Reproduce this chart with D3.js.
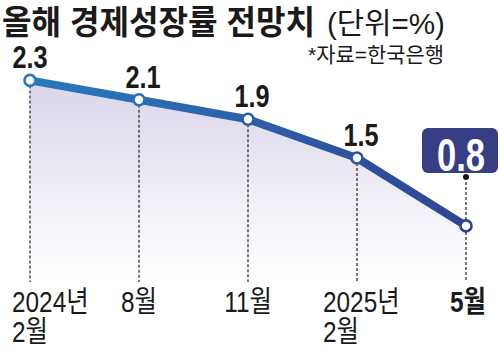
<!DOCTYPE html>
<html><head><meta charset="utf-8">
<script src="https://cdn.jsdelivr.net/npm/d3@7"></script>
<style>body{margin:0;background:#fff}svg{display:block}</style>
</head><body>
<script>
const categories = ["2024년 2월", "8월", "11월", "2025년 2월", "5월"];
const values = [2.3, 2.1, 1.9, 1.5, 0.8];
const valueLabels = ["2.3", "2.1", "1.9", "1.5", "0.8"];
const title = "올해 경제성장률 전망치";
const unitText = "(단위=%)";
const sourceText = "*자료=한국은행";

const W = 500, H = 349;
const svg = d3.select("body").append("svg").attr("width", W).attr("height", H);
const KR = "'Liberation Sans', 'Noto Sans CJK KR', sans-serif";
const NUM = "'Liberation Sans', Arial, sans-serif";

const x = d3.scalePoint().domain(categories).range([30, 466]);
const y = d3.scaleLinear().domain([0, 2.5]).range([303.5, 61]);
const baseY = 282;

function condense(sel, f) {
  sel.each(function() {
    const w = this.getComputedTextLength();
    d3.select(this).attr("textLength", w * f).attr("lengthAdjust", "spacingAndGlyphs");
  });
}

const defs = svg.append("defs");
const ag = defs.append("linearGradient").attr("id", "areaG")
  .attr("gradientUnits", "userSpaceOnUse").attr("x1", 0).attr("x2", 0).attr("y1", 80).attr("y2", 275);
ag.append("stop").attr("offset", 0).attr("stop-color", "#dad5ea");
ag.append("stop").attr("offset", 1).attr("stop-color", "#ffffff");
const lg = defs.append("linearGradient").attr("id", "lineG")
  .attr("gradientUnits", "userSpaceOnUse").attr("x1", 30).attr("x2", 466).attr("y1", 0).attr("y2", 0);
lg.append("stop").attr("offset", 0).attr("stop-color", "#2a79bd");
lg.append("stop").attr("offset", 1).attr("stop-color", "#2e4595");
const colAt = d3.interpolateRgb("#2a79bd", "#2e4595");

const data = categories.map((c, i) => ({c, v: values[i], label: valueLabels[i], i}));

// area
svg.append("path").datum(data)
  .attr("d", d3.area().x(d => x(d.c)).y0(baseY).y1(d => y(d.v)))
  .attr("fill", "url(#areaG)");

// dashed drop lines
const last = data[data.length - 1];
const boxTop = y(last.v) - 98, boxBot = y(last.v) - 53;
svg.selectAll("line.drop").data(data).enter().append("line")
  .attr("x1", d => x(d.c)).attr("x2", d => x(d.c))
  .attr("y1", d => d.i === data.length - 1 ? boxBot + 4 : y(d.v))
  .attr("y2", baseY)
  .attr("stroke", "#222").attr("stroke-width", 1.2).attr("stroke-dasharray", "3,2");

// line
svg.append("path").datum(data)
  .attr("d", d3.line().x(d => x(d.c)).y(d => y(d.v)))
  .attr("fill", "none").attr("stroke", "url(#lineG)").attr("stroke-width", 8)
  .attr("stroke-linejoin", "round");

// points
svg.selectAll("circle.pt").data(data).enter().append("circle")
  .attr("cx", d => x(d.c)).attr("cy", d => y(d.v)).attr("r", 5.5)
  .attr("fill", "#fff").attr("stroke", d => colAt(d.i / (data.length - 1))).attr("stroke-width", 2.6);

// value labels (all but last)
const vl = svg.selectAll("text.val").data(data.slice(0, -1)).enter().append("text")
  .attr("x", d => x(d.c) + (d.i === 0 ? 0 : 4)).attr("y", d => y(d.v) - 12)
  .attr("text-anchor", "middle").attr("font-family", NUM).attr("font-weight", "bold")
  .attr("font-size", 32).attr("fill", "#1a1a1a").text(d => d.label);
condense(vl, 0.79);

// highlight box for last
const bx = x(last.c);
svg.append("rect").attr("x", bx - 44).attr("y", boxTop).attr("width", 76).attr("height", boxBot - boxTop)
  .attr("rx", 6).attr("fill", "#383e84");
svg.append("circle").attr("cx", bx).attr("cy", boxBot + 4).attr("r", 3).attr("fill", "#111");
const bl = svg.append("text").attr("x", bx - 5).attr("y", boxBot - 2)
  .attr("text-anchor", "middle").attr("font-family", NUM).attr("font-weight", "bold")
  .attr("font-size", 46).attr("fill", "#fff").text(last.label);
condense(bl, 0.75);

// x labels
const xl = svg.selectAll("g.xl").data(data).enter().append("g");
xl.each(function(d) {
  const parts = d.c.split(" ");
  const g = d3.select(this);
  const isFirst = d.i === 0, isLast = d.i === data.length - 1;
  parts.forEach((p, k) => {
    const t = g.append("text")
      .attr("x", isFirst ? x(d.c) - 18 : (parts.length > 1 ? x(d.c) - 34 : x(d.c) + (isLast ? 2 : 0)))
      .attr("y", 312 + k * 30)
      .attr("text-anchor", parts.length > 1 || isFirst ? "start" : "middle")
      .attr("font-family", KR).attr("font-weight", isLast ? "bold" : "normal")
      .attr("font-size", 29).attr("fill", "#1a1a1a").text(p);
    condense(t, 0.84);
  });
});

// title
svg.append("text").attr("x", 2).attr("y", 34).attr("font-family", KR).attr("font-weight", "bold")
  .attr("font-size", 33).attr("fill", "#1a1a1a").attr("textLength", 313).attr("lengthAdjust", "spacingAndGlyphs").text(title);
svg.append("text").attr("x", 327).attr("y", 34).attr("font-family", KR).attr("font-weight", "normal")
  .attr("font-size", 29).attr("fill", "#1a1a1a").attr("textLength", 118).attr("lengthAdjust", "spacingAndGlyphs").text(unitText);
svg.append("text").attr("x", 308).attr("y", 62).attr("font-family", KR)
  .attr("font-size", 21).attr("fill", "#1a1a1a").attr("textLength", 136).attr("lengthAdjust", "spacingAndGlyphs").text(sourceText);
</script>
</body></html>
